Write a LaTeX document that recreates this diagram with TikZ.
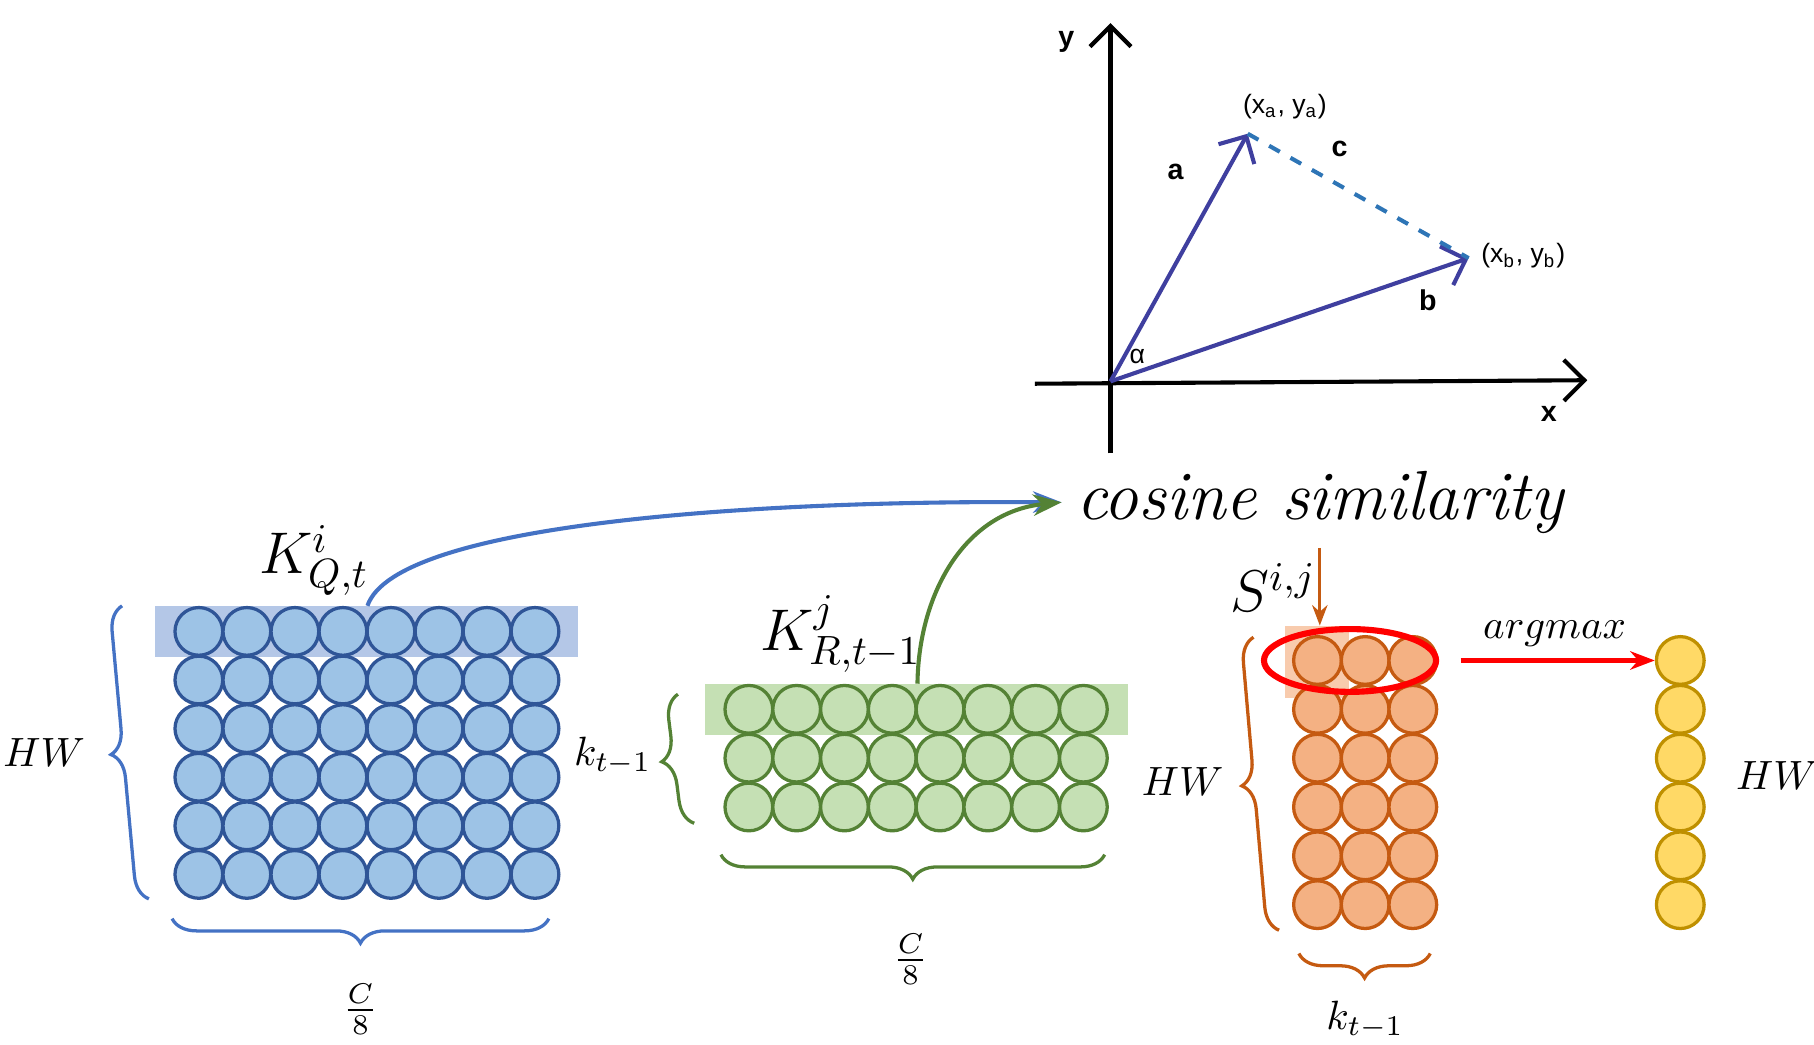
\documentclass[tikz,border=0pt]{standalone}
\usepackage{fontspec}
\newfontfamily\plotfont{Liberation Sans}
\usetikzlibrary{decorations.pathreplacing,arrows.meta}
\definecolor{bfill}{HTML}{9DC3E6}\definecolor{bdraw}{HTML}{2F5597}\definecolor{bband}{HTML}{B4C7E7}\definecolor{bline}{HTML}{4472C4}
\definecolor{gfill}{HTML}{C5E0B4}\definecolor{gdraw}{HTML}{548235}
\definecolor{ofill}{HTML}{F4B183}\definecolor{odraw}{HTML}{C55A11}\definecolor{oband}{HTML}{F8CBAD}
\definecolor{yfill}{HTML}{FFD966}\definecolor{ydraw}{HTML}{BF9000}
\definecolor{vec}{HTML}{3F3F9F}\definecolor{dashblue}{HTML}{2E75B6}
\tikzset{
 cell/.style={circle,minimum size=0.41cm,inner sep=0pt,line width=0.8pt},
 bc/.style={cell,fill=bfill,draw=bdraw},
 gc/.style={cell,fill=gfill,draw=gdraw},
 oc/.style={cell,fill=ofill,draw=odraw},
 yc/.style={cell,fill=yfill,draw=ydraw},
 lbl/.style={font=\fontsize{10}{12}\selectfont\itshape},
 pl/.style={font=\plotfont\fontsize{6.5}{8}\selectfont},
 plb/.style={font=\plotfont\bfseries\fontsize{7}{8}\selectfont},
 br/.style={decorate,decoration={brace,amplitude=6pt},line width=0.8pt},
}
\begin{document}
\begin{tikzpicture}[x=0.01cm,y=-0.01cm]
\useasboundingbox (0,0) rectangle (1560,898);
% blue
\fill[bband] (133,521) rectangle (497,565);
\foreach \r in {0,...,5}{\foreach \c in {0,...,7}{\node[bc] (b\r\c) at ({171+\c*41.3},{543+\r*41.8}) {};}}
\draw[br,draw=bline] (128,773) -- (105,521);
\node[lbl] (hw1) at (38,647) {$HW$};
\draw[br,draw=bline,decoration={mirror}] (148,790) -- (472,790);
\node (c1) at (310,868) {$\frac{C}{8}$};
\node (kq) at (270,482) {\Large$K^{i}_{Q,t}$};
% green
\fill[gfill] (606,588) rectangle (970,632);
\foreach \r in {0,...,2}{\foreach \c in {0,...,7}{\node[gc] (g\r\c) at ({644+\c*41.1},{610+\r*42}) {};}}
\draw[br,draw=gdraw] (597,708) -- (583,597);
\node[lbl] (kt1) at (527,650) {$k_{t-1}$};
\draw[br,draw=gdraw,decoration={mirror}] (620,735) -- (950,735);
\node (c2) at (783,825) {$\frac{C}{8}$};
\node (kr) at (723,545) {\Large$K^{j}_{R,t-1}$};
% cosine
\node[font=\fontsize{17}{20}\selectfont\itshape] (cs) at (1135,432) {cosine similarity};
\draw[-{Stealth[length=7pt]},line width=1pt,bline] (316,521) .. controls (340,450) and (650,430) .. (cs.west);
\draw[-{Stealth[length=7pt]},line width=1pt,gdraw] (789,588) .. controls (790,510) and (830,440) .. (cs.west);
% orange
\fill[oband] (1105,538) rectangle (1160,600);
\foreach \r in {0,...,5}{\foreach \c in {0,...,2}{\node[oc] (o\r\c) at ({1133+\c*41},{568+\r*42}) {};}}
\coordinate (oarr) at (1135,538);
\draw[-{Stealth[length=5pt]},odraw,line width=0.8pt] (cs.south -| oarr) -- (oarr);
\node (sij) at (1095,505) {\Large$S^{i,j}$};
\draw[red,line width=1.5pt] (1161,568) ellipse [x radius=74,y radius=27];
\coordinate (ell) at (1256,568);
\node[lbl] (am) at (1337,545) {$argmax$};
\draw[br,draw=odraw] (1100,800) -- (1078,548);
\node[lbl] (hw2) at (1017,672) {$HW$};
\draw[br,draw=odraw,decoration={mirror}] (1117,820) -- (1230,820);
\node[lbl] (kt2) at (1174,877) {$k_{t-1}$};
% yellow
\foreach \r in {0,...,5}{\node[yc] (y\r) at (1445,{568+\r*42}) {};}
\draw[-{Stealth[length=6pt]},red,line width=1.2pt] (ell) -- (y0.west);
\node[lbl] (hw3) at (1528,667) {$HW$};
% plot
\coordinate (O) at (955,328);
\coordinate (ytop) at (955,20); \coordinate (ybot) at (955,390);
\coordinate (xl) at (890,330); \coordinate (xr) at (1365,327);
\coordinate (A) at (1073,115); \coordinate (B) at (1263,222);
\draw[-{Straight Barb[length=5pt]},line width=1pt] (ybot) -- (ytop);
\draw[-{Straight Barb[length=5pt]},line width=1pt] (xl) -- (xr);
\draw[-{Straight Barb[length=5pt]},vec,line width=1pt] (O) -- (A);
\draw[-{Straight Barb[length=5pt]},vec,line width=1pt] (O) -- (B);
\draw[dashblue,dashed,line width=1pt] (A) -- (B);
\node[plb] (ly) at (917,36) {y};
\node[plb] (lx) at (1332,356) {x};
\node[plb] (la) at (1011,148) {a};
\node[plb] (lb) at (1228,258) {b};
\node[plb] (lc) at (1152,128) {c};
\node[pl] (pa) at (1105,92) {(x\textsubscript{a}, y\textsubscript{a})};
\node[pl] (pb) at (1310,220) {(x\textsubscript{b}, y\textsubscript{b})};
\node[pl] (al) at (978,307) {α};
\end{tikzpicture}
\end{document}
